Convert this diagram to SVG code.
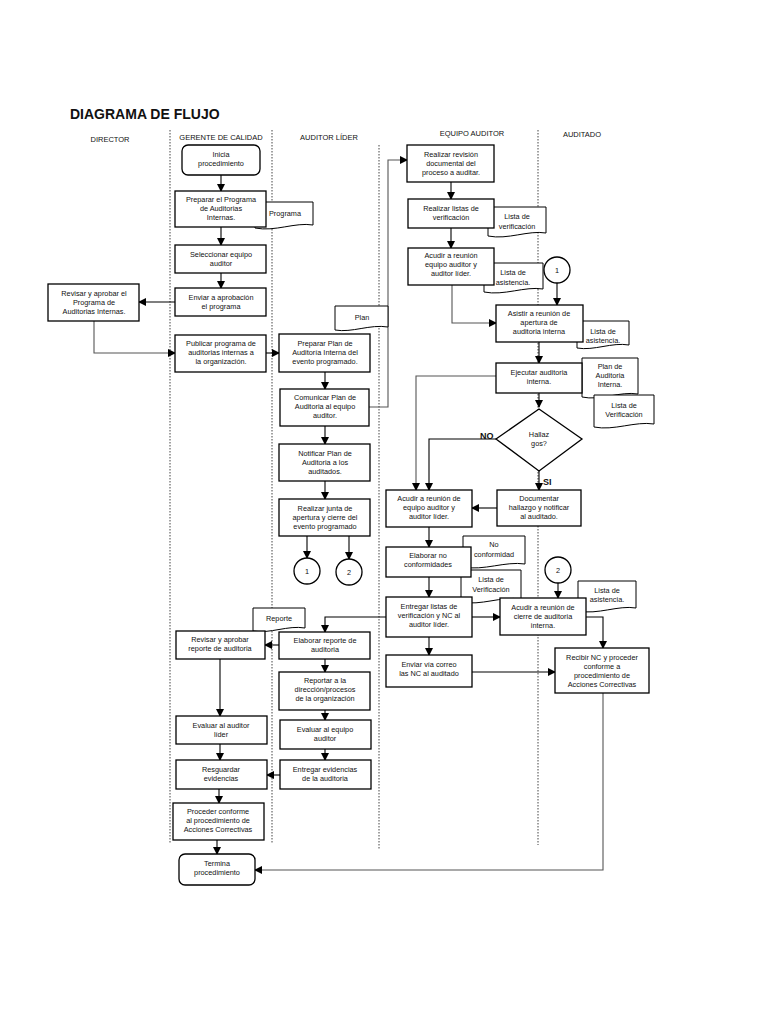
<svg xmlns="http://www.w3.org/2000/svg" width="768" height="1024" viewBox="0 0 768 1024">
<style>
text{font-family:"Liberation Sans",Arial,sans-serif;font-size:7.3px;fill:#111;text-anchor:middle}
.h{font-size:7.5px}
.t{font-size:14px;font-weight:bold;text-anchor:start}
.lb{font-size:9px;font-weight:bold;text-anchor:start}
.b{fill:#fff;stroke:#000;stroke-width:1.3}
.d{fill:#fff;stroke:#000;stroke-width:1}
.lane{stroke:#444;stroke-width:1;stroke-dasharray:1.5,1.5;fill:none}
.c{fill:none;stroke:#000;stroke-width:1.1;marker-end:url(#a)}
.cg{fill:none;stroke:#555;stroke-width:1.1;marker-end:url(#a)}
</style>
<defs><marker id="a" markerWidth="8" markerHeight="8" refX="7" refY="4" orient="auto" markerUnits="userSpaceOnUse"><path d="M0,0 L8,4 L0,8 Z" fill="#000"/></marker></defs>
<rect width="768" height="1024" fill="#fff"/>
<text class="t" x="70" y="119">DIAGRAMA DE FLUJO</text>
<g id="lanes">
<line class="lane" x1="170" y1="130" x2="170" y2="843"/>
<line class="lane" x1="272" y1="130" x2="272" y2="843"/>
<line class="lane" x1="379" y1="145" x2="379" y2="850"/>
<line class="lane" x1="538" y1="130" x2="538" y2="845"/>
<text class="h" x="110" y="142">DIRECTOR</text>
<text class="h" x="221" y="140">GERENTE DE CALIDAD</text>
<text class="h" x="329" y="140">AUDITOR LÍDER</text>
<text class="h" x="472" y="136">EQUIPO AUDITOR</text>
<text class="h" x="582" y="137">AUDITADO</text>
</g>
<g id="connectors">
<line class="c" x1="221" y1="175" x2="221" y2="191"/>
<line class="c" x1="221" y1="227" x2="221" y2="245"/>
<line class="c" x1="221" y1="273" x2="221" y2="288"/>
<line class="c" x1="175" y1="302" x2="139" y2="302"/>
<polyline class="cg" points="94,321 94,353 175,353"/>
<line class="c" x1="266" y1="353" x2="279" y2="353"/>
<line class="c" x1="325" y1="372" x2="325" y2="389"/>
<line class="c" x1="325" y1="426" x2="325" y2="444"/>
<line class="c" x1="325" y1="481" x2="325" y2="499"/>
<line class="c" x1="307" y1="536" x2="307" y2="558"/>
<line class="c" x1="349" y1="536" x2="349" y2="559"/>
<polyline class="cg" points="369,407 388,407 388,160 407,160"/>
<line class="c" x1="451" y1="182" x2="451" y2="199"/>
<line class="c" x1="451" y1="228" x2="451" y2="248"/>
<polyline class="cg" points="452,285 452,323 496,323"/>
<line class="c" x1="557" y1="283" x2="557" y2="305"/>
<line class="c" x1="539" y1="342" x2="539" y2="363"/>
<line class="c" x1="539" y1="393" x2="539" y2="407"/>
<polyline class="c" points="496,439 429,439 429,490"/>
<polyline class="cg" points="496,376 416,376 416,490"/>
<line class="c" x1="539" y1="471" x2="539" y2="490"/>
<line class="c" x1="497" y1="508" x2="472" y2="508"/>
<line class="c" x1="429" y1="527" x2="429" y2="547"/>
<line class="c" x1="429" y1="577" x2="429" y2="597"/>
<line class="c" x1="558" y1="583" x2="558" y2="598"/>
<line class="c" x1="472" y1="617" x2="500" y2="617"/>
<polyline class="c" points="586,617 603,617 603,648"/>
<line class="c" x1="429" y1="637" x2="429" y2="655"/>
<line class="c" x1="472" y1="672" x2="555" y2="672"/>
<polyline class="c" points="386,617 325,617 325,632"/>
<line class="c" x1="279" y1="645" x2="265" y2="645"/>
<line class="c" x1="325" y1="659" x2="325" y2="672"/>
<line class="c" x1="325" y1="710" x2="325" y2="720"/>
<line class="c" x1="325" y1="749" x2="325" y2="760"/>
<line class="c" x1="220" y1="659" x2="220" y2="716"/>
<line class="c" x1="220" y1="744" x2="220" y2="760"/>
<line class="c" x1="280" y1="775" x2="267" y2="775"/>
<line class="c" x1="219" y1="789" x2="219" y2="803"/>
<line class="c" x1="217" y1="840" x2="217" y2="854"/>
<polyline class="cg" points="603,693 603,870 255,870"/>
</g>
<g id="docs">
<path class="d" d="M255,202 H313 V225 C295,222 275,232 255,228 Z"/><text x="285" y="216">Programa</text>
<path class="d" d="M335,306 H388 V327 C370,324 352,333 335,330 Z"/><text x="362" y="320">Plan</text>
<path class="d" d="M488,207 H546 V233 C528,230 508,240 488,236 Z"/><text x="517" y="219">Lista de</text><text x="517" y="229">verificación</text>
<path class="d" d="M484,263 H543 V289 C525,286 504,296 484,292 Z"/><text x="513" y="275">Lista de</text><text x="513" y="285">asistencia.</text>
<path class="d" d="M577,321 H629 V345 C612,342 594,351 577,348 Z"/><text x="603" y="334">Lista de</text><text x="603" y="343">asistencia.</text>
<path class="d" d="M582,358 H638 V394 C620,391 600,401 582,397 Z"/><text x="610" y="369">Plan de</text><text x="610" y="378">Auditoria</text><text x="610" y="387">Interna.</text>
<path class="d" d="M594,395 H654 V424 C635,421 614,431 594,427 Z"/><text x="624" y="408">Lista de</text><text x="624" y="417">Verificación</text>
<path class="d" d="M463,536 H525 V564 C505,561 484,571 463,567 Z"/><text x="494" y="547">No</text><text x="494" y="557">conformidad</text>
<path class="d" d="M461,570 H521 V599 C501,596 481,606 461,602 Z"/><text x="491" y="582">Lista de</text><text x="491" y="592">Verificación</text>
<path class="d" d="M578,581 H636 V608 C618,605 598,615 578,611 Z"/><text x="607" y="593">Lista de</text><text x="607" y="602">asistencia.</text>
<path class="d" d="M253,608 H305 V628 C288,625 270,634 253,631 Z"/><text x="279" y="621">Reporte</text>
</g>
<g id="n1"><rect class="b" x="182" y="145" width="78" height="30" rx="6"/><text x="221" y="157">Inicia</text><text x="221" y="166">procedimiento</text></g>
<g id="n2"><rect class="b" x="175" y="191" width="91" height="36"/><text x="221" y="202">Preparar el Programa</text><text x="221" y="211">de Auditorias</text><text x="221" y="220">Internas.</text></g>
<g id="n3"><rect class="b" x="175" y="245" width="91" height="28"/><text x="221" y="257">Seleccionar equipo</text><text x="221" y="266">auditor</text></g>
<g id="n4"><rect class="b" x="175" y="288" width="91" height="28"/><text x="221" y="300">Enviar a aprobación</text><text x="221" y="309">el programa</text></g>
<g id="n5"><rect class="b" x="48" y="284" width="91" height="37"/><text x="94" y="296">Revisar y aprobar el</text><text x="94" y="305">Programa  de</text><text x="94" y="314">Auditorias Internas.</text></g>
<g id="n6"><rect class="b" x="175" y="335" width="91" height="37"/><text x="221" y="346">Publicar programa de</text><text x="221" y="355">auditorias internas a</text><text x="221" y="364">la organización.</text></g>
<g id="n7"><rect class="b" x="279" y="334" width="91" height="38"/><text x="325" y="346">Preparar Plan de</text><text x="325" y="355">Auditoría Interna del</text><text x="325" y="364">evento programado.</text></g>
<g id="n8"><rect class="b" x="280" y="389" width="89" height="37"/><text x="325" y="400">Comunicar Plan de</text><text x="325" y="409">Auditoria al equipo</text><text x="325" y="418">auditor.</text></g>
<g id="n9"><rect class="b" x="279" y="444" width="91" height="37"/><text x="325" y="456">Notificar Plan de</text><text x="325" y="465">Auditoria a los</text><text x="325" y="474">auditados.</text></g>
<g id="n10"><rect class="b" x="279" y="499" width="91" height="37"/><text x="325" y="511">Realizar junta de</text><text x="325" y="520">apertura y cierre del</text><text x="325" y="529">evento programado</text></g>
<g id="c1a"><circle class="b" cx="307" cy="571" r="13"/><text x="307" y="574">1</text></g>
<g id="c2a"><circle class="b" cx="349" cy="572" r="13"/><text x="349" y="575">2</text></g>
<g id="n11"><rect class="b" x="407" y="145" width="87" height="37"/><text x="451" y="157">Realizar revisión</text><text x="451" y="166">documental del</text><text x="451" y="175">proceso a auditar.</text></g>
<g id="n12"><rect class="b" x="408" y="199" width="86" height="29"/><text x="451" y="211">Realizar listas de</text><text x="451" y="220">verificación</text></g>
<g id="n13"><rect class="b" x="408" y="248" width="86" height="37"/><text x="451" y="258">Acudir a reunión</text><text x="451" y="267">equipo auditor y</text><text x="451" y="276">auditor líder.</text></g>
<g id="c1b"><circle class="b" cx="557" cy="270" r="13"/><text x="557" y="273">1</text></g>
<g id="n14"><rect class="b" x="496" y="305" width="87" height="37"/><text x="539" y="316">Asistir a reunión de</text><text x="539" y="325">apertura de</text><text x="539" y="334">auditoria interna</text></g>
<g id="n15"><rect class="b" x="496" y="363" width="86" height="30"/><text x="539" y="375">Ejecutar auditoria</text><text x="539" y="384">interna.</text></g>
<g id="n16"><polygon class="b" points="539,409 582,439 539,471 496,439"/><text x="539" y="437">Hallaz</text><text x="539" y="446">gos?</text></g>
<text class="lb" x="480" y="439">NO</text>
<text class="lb" x="543" y="485">SI</text>
<g id="n17"><rect class="b" x="386" y="490" width="86" height="37"/><text x="429" y="501">Acudir a reunión de</text><text x="429" y="510">equipo auditor y</text><text x="429" y="519">auditor líder.</text></g>
<g id="n18"><rect class="b" x="497" y="490" width="84" height="36"/><text x="539" y="501">Documentar</text><text x="539" y="510">hallazgo y  notificar</text><text x="539" y="519">al auditado.</text></g>
<g id="n19"><rect class="b" x="386" y="547" width="85" height="30"/><text x="428" y="558">Elaborar no</text><text x="428" y="567">conformidades</text></g>
<g id="n20"><rect class="b" x="386" y="597" width="86" height="40"/><text x="429" y="609">Entregar listas de</text><text x="429" y="618">verificación y NC al</text><text x="429" y="627">auditor líder.</text></g>
<g id="c2b"><circle class="b" cx="558" cy="570" r="13"/><text x="558" y="573">2</text></g>
<g id="n21"><rect class="b" x="500" y="598" width="86" height="37"/><text x="543" y="610">Acudir a reunión de</text><text x="543" y="619">cierre de auditoria</text><text x="543" y="628">interna.</text></g>
<g id="n22"><rect class="b" x="555" y="648" width="94" height="45"/><text x="602" y="660">Recibir NC y proceder</text><text x="602" y="669">conforme a</text><text x="602" y="678">procedimiento de</text><text x="602" y="687">Acciones Correctivas</text></g>
<g id="n23"><rect class="b" x="386" y="655" width="86" height="32"/><text x="429" y="667">Enviar vía correo</text><text x="429" y="676">las NC al auditado</text></g>
<g id="n24"><rect class="b" x="279" y="632" width="91" height="27"/><text x="325" y="643">Elaborar reporte de</text><text x="325" y="652">auditoria</text></g>
<g id="n25"><rect class="b" x="176" y="631" width="89" height="28"/><text x="220" y="642">Revisar y aprobar</text><text x="220" y="651">reporte de auditoria</text></g>
<g id="n26"><rect class="b" x="279" y="672" width="91" height="38"/><text x="325" y="683">Reportar a la</text><text x="325" y="692">dirección/procesos</text><text x="325" y="701">de la organización</text></g>
<g id="n27"><rect class="b" x="176" y="716" width="91" height="28"/><text x="221" y="728">Evaluar al auditor</text><text x="221" y="737">líder</text></g>
<g id="n28"><rect class="b" x="280" y="720" width="91" height="29"/><text x="325" y="732">Evaluar al equipo</text><text x="325" y="741">auditor</text></g>
<g id="n29"><rect class="b" x="176" y="760" width="91" height="29"/><text x="221" y="772">Resguardar</text><text x="221" y="781">evidencias</text></g>
<g id="n30"><rect class="b" x="280" y="760" width="91" height="29"/><text x="325" y="772">Entregar evidencias</text><text x="325" y="781">de la auditoria</text></g>
<g id="n31"><rect class="b" x="173" y="803" width="91" height="37"/><text x="218" y="814">Proceder conforme</text><text x="218" y="823">al procedimiento de</text><text x="218" y="832">Acciones Correctivas</text></g>
<g id="n32"><rect class="b" x="179" y="854" width="76" height="31" rx="6"/><text x="217" y="866">Termina</text><text x="217" y="875">procedimiento</text></g>
</svg>
